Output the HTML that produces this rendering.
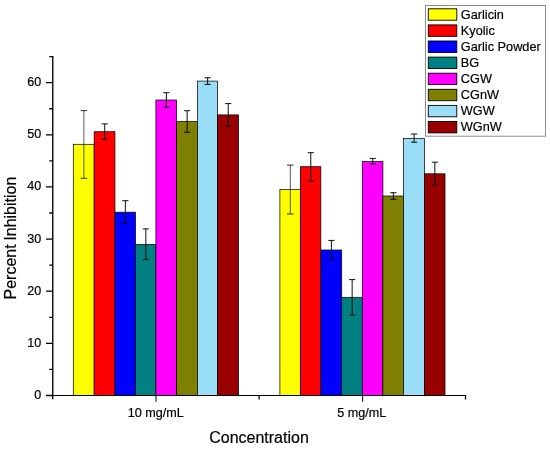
<!DOCTYPE html>
<html><head><meta charset="utf-8"><title>Percent Inhibition chart</title>
<style>
html,body{margin:0;padding:0;background:#fff;}
body{width:550px;height:450px;overflow:hidden;}
svg{display:block;}
text{font-family:"Liberation Sans",Arial,sans-serif;fill:#000;stroke:#000;stroke-width:0.2px;}
</style></head><body>
<svg width="550" height="450" viewBox="0 0 550 450">
<rect x="0" y="0" width="550" height="450" fill="#fff"/>
<rect x="73.30" y="144.30" width="20.85" height="251.20" fill="#ffff00" stroke="#000" stroke-width="0.72"/>
<rect x="94.15" y="131.70" width="20.80" height="263.80" fill="#ff0000" stroke="#000" stroke-width="0.72"/>
<rect x="114.95" y="212.20" width="20.50" height="183.30" fill="#0000ff" stroke="#000" stroke-width="0.72"/>
<rect x="135.45" y="244.40" width="20.45" height="151.10" fill="#008080" stroke="#000" stroke-width="0.72"/>
<rect x="155.90" y="100.00" width="20.70" height="295.50" fill="#ff00ff" stroke="#000" stroke-width="0.72"/>
<rect x="176.60" y="121.60" width="20.80" height="273.90" fill="#808000" stroke="#000" stroke-width="0.72"/>
<rect x="197.40" y="81.10" width="20.20" height="314.40" fill="#99ddf7" stroke="#000" stroke-width="0.72"/>
<rect x="217.60" y="114.90" width="20.95" height="280.60" fill="#990000" stroke="#000" stroke-width="0.72"/>
<path d="M83.88 110.60V178.30" stroke="#000" stroke-width="0.65" fill="none"/>
<path d="M80.58 110.60h6.6M80.58 178.30h6.6" stroke="#000" stroke-width="0.8" fill="none"/>
<path d="M104.70 123.90V139.40M101.60 123.90h6.2M101.60 139.40h6.2" stroke="#000" stroke-width="0.95" fill="none"/>
<path d="M125.35 200.70V223.30M122.25 200.70h6.2M122.25 223.30h6.2" stroke="#000" stroke-width="0.95" fill="none"/>
<path d="M145.83 228.90V259.60M142.73 228.90h6.2M142.73 259.60h6.2" stroke="#000" stroke-width="0.95" fill="none"/>
<path d="M166.40 92.70V107.30M163.30 92.70h6.2M163.30 107.30h6.2" stroke="#000" stroke-width="0.95" fill="none"/>
<path d="M187.15 110.70V132.20M184.05 110.70h6.2M184.05 132.20h6.2" stroke="#000" stroke-width="0.95" fill="none"/>
<path d="M207.65 77.80V84.40M204.55 77.80h6.2M204.55 84.40h6.2" stroke="#000" stroke-width="0.95" fill="none"/>
<path d="M228.22 103.60V126.00M225.12 103.60h6.2M225.12 126.00h6.2" stroke="#000" stroke-width="0.95" fill="none"/>
<rect x="279.90" y="189.60" width="20.50" height="205.90" fill="#ffff00" stroke="#000" stroke-width="0.72"/>
<rect x="300.40" y="166.70" width="20.45" height="228.80" fill="#ff0000" stroke="#000" stroke-width="0.72"/>
<rect x="320.85" y="250.00" width="20.85" height="145.50" fill="#0000ff" stroke="#000" stroke-width="0.72"/>
<rect x="341.70" y="297.30" width="20.60" height="98.20" fill="#008080" stroke="#000" stroke-width="0.72"/>
<rect x="362.30" y="161.60" width="20.60" height="233.90" fill="#ff00ff" stroke="#000" stroke-width="0.72"/>
<rect x="382.90" y="196.00" width="20.60" height="199.50" fill="#808000" stroke="#000" stroke-width="0.72"/>
<rect x="403.50" y="138.40" width="20.90" height="257.10" fill="#99ddf7" stroke="#000" stroke-width="0.72"/>
<rect x="424.40" y="173.80" width="20.60" height="221.70" fill="#990000" stroke="#000" stroke-width="0.72"/>
<path d="M290.30 165.10V214.00" stroke="#000" stroke-width="0.65" fill="none"/>
<path d="M287.00 165.10h6.6M287.00 214.00h6.6" stroke="#000" stroke-width="0.8" fill="none"/>
<path d="M310.77 152.70V181.10M307.67 152.70h6.2M307.67 181.10h6.2" stroke="#000" stroke-width="0.95" fill="none"/>
<path d="M331.42 240.40V259.60M328.32 240.40h6.2M328.32 259.60h6.2" stroke="#000" stroke-width="0.95" fill="none"/>
<path d="M352.15 279.60V315.10M349.05 279.60h6.2M349.05 315.10h6.2" stroke="#000" stroke-width="0.95" fill="none"/>
<path d="M372.75 158.40V164.00M369.65 158.40h6.2M369.65 164.00h6.2" stroke="#000" stroke-width="0.95" fill="none"/>
<path d="M393.35 192.70V199.30M390.25 192.70h6.2M390.25 199.30h6.2" stroke="#000" stroke-width="0.95" fill="none"/>
<path d="M414.10 134.00V142.20M411.00 134.00h6.2M411.00 142.20h6.2" stroke="#000" stroke-width="0.95" fill="none"/>
<path d="M434.85 162.20V184.90M431.75 162.20h6.2M431.75 184.90h6.2" stroke="#000" stroke-width="0.95" fill="none"/>
<path d="M52.75 56.0V399.3" stroke="#000" stroke-width="1.35" fill="none"/>
<path d="M52.0 395.5H466.1" stroke="#000" stroke-width="1.1" fill="none"/>
<path d="M46 395.50H52.75M49.3 369.43H52.75M46 343.36H52.75M49.3 317.29H52.75M46 291.22H52.75M49.3 265.15H52.75M46 239.08H52.75M49.3 213.01H52.75M46 186.94H52.75M49.3 160.87H52.75M46 134.80H52.75M49.3 108.73H52.75M46 82.66H52.75M49.3 56.59H52.75" stroke="#000" stroke-width="1.3" fill="none"/>
<path d="M156.0 395.5V401.8M362.6 395.5V401.8" stroke="#000" stroke-width="1.0" fill="none"/>
<path d="M259.1 395.5V399.5M465.5 395.5V399.5" stroke="#000" stroke-width="1.3" fill="none"/>
<text transform="translate(41.2 398.95) scale(0.97 1)" font-size="13" text-anchor="end">0</text>
<text transform="translate(41.2 346.81) scale(0.97 1)" font-size="13" text-anchor="end">10</text>
<text transform="translate(41.2 294.67) scale(0.97 1)" font-size="13" text-anchor="end">20</text>
<text transform="translate(41.2 242.53) scale(0.97 1)" font-size="13" text-anchor="end">30</text>
<text transform="translate(41.2 190.39) scale(0.97 1)" font-size="13" text-anchor="end">40</text>
<text transform="translate(41.2 138.25) scale(0.97 1)" font-size="13" text-anchor="end">50</text>
<text transform="translate(41.2 86.11) scale(0.97 1)" font-size="13" text-anchor="end">60</text>
<text transform="translate(155.85 416.75) scale(0.972 1)" font-size="13" text-anchor="middle">10 mg/mL</text>
<text transform="translate(361.8 416.95) scale(0.972 1)" font-size="13" text-anchor="middle">5 mg/mL</text>
<text x="259" y="443.1" font-size="16" text-anchor="middle">Concentration</text>
<text transform="translate(16 299.5) rotate(-90)" font-size="16" word-spacing="-0.8">Percent Inhibition</text>
<rect x="425.5" y="5.5" width="120" height="130.7" fill="#fff" stroke="#888" stroke-width="0.95"/>
<rect x="428.3" y="8.80" width="28.5" height="11.4" fill="#ffff00" stroke="#000" stroke-width="0.9"/>
<text transform="translate(460.8 18.80) scale(0.98 1)" font-size="13">Garlicin</text>
<rect x="428.3" y="24.90" width="28.5" height="11.4" fill="#ff0000" stroke="#000" stroke-width="0.9"/>
<text transform="translate(460.8 34.83) scale(0.98 1)" font-size="13">Kyolic</text>
<rect x="428.3" y="41.00" width="28.5" height="11.4" fill="#0000ff" stroke="#000" stroke-width="0.9"/>
<text transform="translate(460.8 50.86) scale(0.98 1)" font-size="13">Garlic Powder</text>
<rect x="428.3" y="57.10" width="28.5" height="11.4" fill="#008080" stroke="#000" stroke-width="0.9"/>
<text transform="translate(460.8 66.89) scale(0.98 1)" font-size="13">BG</text>
<rect x="428.3" y="73.20" width="28.5" height="11.4" fill="#ff00ff" stroke="#000" stroke-width="0.9"/>
<text transform="translate(460.8 82.92) scale(0.98 1)" font-size="13">CGW</text>
<rect x="428.3" y="89.30" width="28.5" height="11.4" fill="#808000" stroke="#000" stroke-width="0.9"/>
<text transform="translate(460.8 98.95) scale(0.98 1)" font-size="13">CGnW</text>
<rect x="428.3" y="105.40" width="28.5" height="11.4" fill="#99ddf7" stroke="#000" stroke-width="0.9"/>
<text transform="translate(460.8 114.98) scale(0.98 1)" font-size="13">WGW</text>
<rect x="428.3" y="121.50" width="28.5" height="11.4" fill="#990000" stroke="#000" stroke-width="0.9"/>
<text transform="translate(460.8 131.01) scale(0.98 1)" font-size="13">WGnW</text>
</svg>
</body></html>
